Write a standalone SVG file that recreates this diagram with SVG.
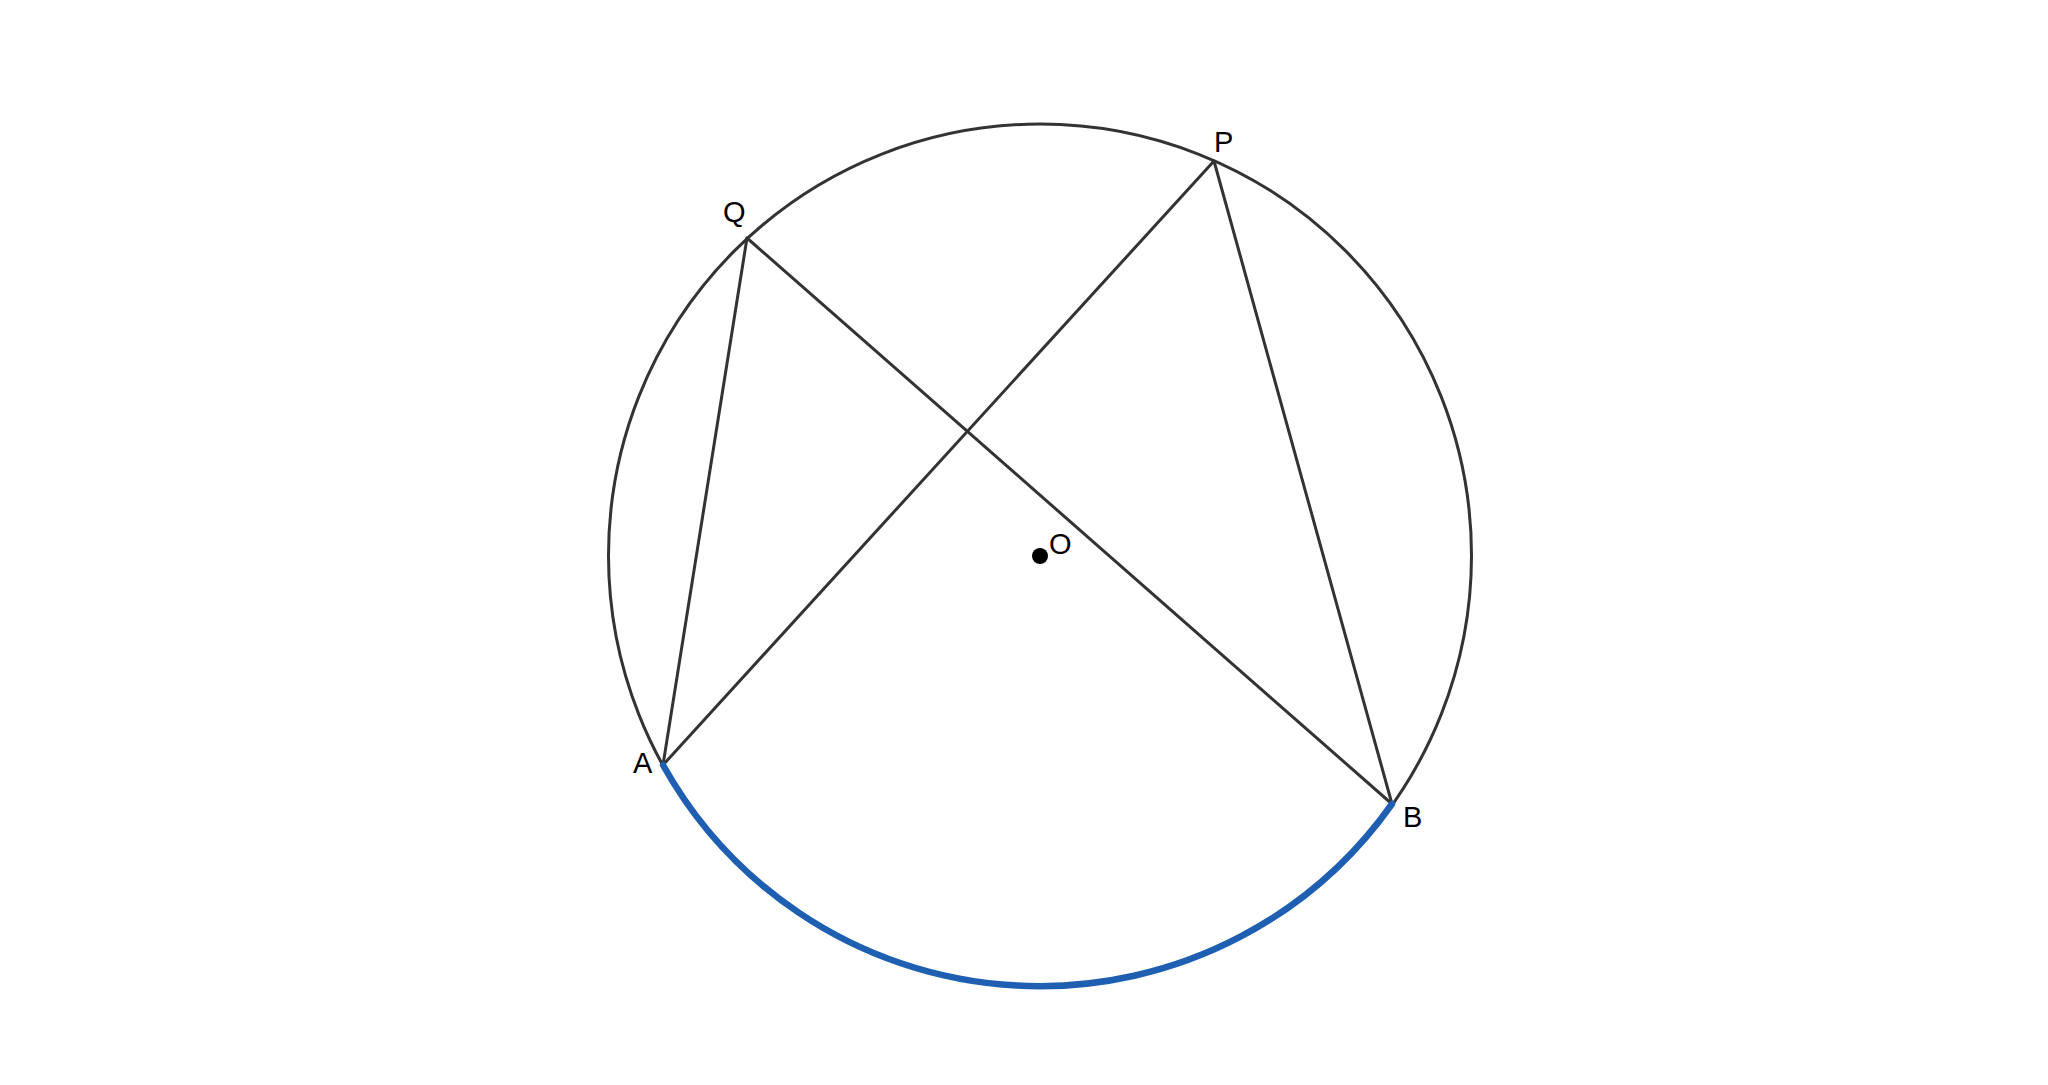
<svg xmlns="http://www.w3.org/2000/svg" width="2048" height="1085" viewBox="0 0 2048 1085">
<style>
.ln{stroke:#333333;stroke-width:3;fill:none;stroke-linecap:round}
.arc{stroke:#1f5fb2;stroke-width:6.5;fill:none;stroke-linecap:round}
.lbl{font-family:"Liberation Sans",Arial,sans-serif;font-size:29px;fill:#000000}
</style>
<rect width="2048" height="1085" fill="#ffffff"/>
<g id="circle">
<circle class="ln" cx="1040" cy="555.5" r="431.5"/>
</g>
<g id="connectors">
<line class="ln" x1="663" y1="765" x2="747" y2="238"/>
<line class="ln" x1="747" y1="238" x2="1392" y2="804"/>
<line class="ln" x1="663" y1="765" x2="1214" y2="161"/>
<line class="ln" x1="1214" y1="161" x2="1392" y2="804"/>
<path class="arc" d="M663 765 A431.5 431.5 0 0 0 1392 804"/>
</g>
<g id="node-O">
<circle cx="1040" cy="556" r="8" fill="#000000"/>
<text class="lbl" x="1049" y="554">O</text>
</g>
<g id="node-P"><text class="lbl" x="1214" y="152">P</text></g>
<g id="node-Q"><text class="lbl" x="723" y="222">Q</text></g>
<g id="node-A"><text class="lbl" x="633" y="773">A</text></g>
<g id="node-B"><text class="lbl" x="1403" y="827">B</text></g>
</svg>
